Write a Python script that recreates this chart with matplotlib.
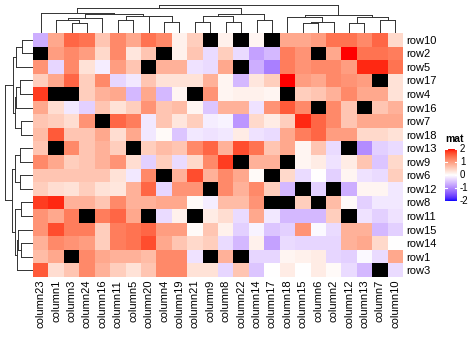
import numpy as np
import matplotlib.pyplot as plt
from matplotlib.colors import ListedColormap

plt.rcParams['font.family'] = ['Liberation Sans', 'DejaVu Sans']

nan = np.nan

# ---------------- data ----------------
row_names = ["row10", "row2", "row5", "row17", "row4", "row16", "row7", "row18", "row13",
             "row9", "row6", "row12", "row8", "row11", "row15", "row14", "row1", "row3"]

col_names = ["column23", "column1", "column3", "column24", "column16", "column11", "column5",
             "column20", "column4", "column19", "column21", "column9", "column8", "column22",
             "column14", "column17", "column18", "column15", "column6", "column2", "column12",
             "column13", "column7", "column10"]

mat = [
    [-0.7, 0.9, 1.5, 1.4, 0.6, 1.2, 0.9, 1.4, 1.2, 0.15, 0.5, nan, 0.15, nan, 0.1, nan, 0.9, 0.9, 1.0, 1.4, 1.4, 1.2, 1.5, 0.4],
    [nan, 1.0, 1.2, 1.0, 0.4, 1.2, 0.25, 0.6, nan, 0.15, 0.6, -0.3, 0.5, -0.3, -0.8, -0.6, 1.3, 1.1, nan, 0.9, 2.0, 1.4, 1.4, 1.3],
    [1.1, -0.35, 1.2, 0.3, -0.15, 1.0, 0.6, nan, 0.8, 0.8, -0.25, -0.3, 0.9, nan, -0.7, -1.1, 1.3, 1.1, 1.2, 1.2, 1.0, 1.9, 1.9, 1.4],
    [0.5, 0.9, 1.5, 0.5, 1.2, -0.35, -0.2, 0.6, 0.3, 0.3, 0.3, 0.8, 0.1, -0.6, 0.25, 0.5, 2.0, 1.0, 0.9, 1.2, 1.1, 1.0, nan, 0.3],
    [1.8, nan, nan, 0.5, 0.8, 0.9, -0.6, 0.9, -0.6, 0.1, nan, 1.1, 0.1, 0.15, 0.15, 0.1, nan, 0.5, 0.6, 0.8, 1.2, 0.9, 0.9, 0.3],
    [0.9, 0.35, -0.2, -0.4, 0.6, 0.3, 0.5, 1.1, 0.6, 0.7, 0.1, -0.5, 0.8, 0.8, -0.25, 1.1, 1.6, 1.2, nan, 1.2, 0.6, nan, 0.6, 0.8],
    [0.6, 0.5, 0.35, 1.1, nan, 1.5, 1.3, -0.2, 0.6, 0.25, 0.5, -0.15, -0.1, -0.9, 0.4, 0.2, 0.5, 1.9, 1.5, 1.2, 0.6, 0.9, 0.9, 0.9],
    [0.7, 1.6, 0.6, 0.6, 0.9, 0.35, 0.9, -0.2, 0.05, -0.5, -0.2, -0.25, -0.2, 0.2, -0.25, -0.3, 0.9, 1.3, 1.5, 1.0, 1.0, 0.4, 0.4, 0.3],
    [0.6, nan, 1.2, 0.6, 0.8, 0.5, nan, 0.5, 0.7, 0.6, 1.2, 1.5, 0.8, 1.7, 1.4, 0.6, 0.9, 0.1, 0.6, -0.3, nan, -1.0, -0.4, -0.3],
    [1.2, 0.9, 0.5, 0.6, 0.8, 1.1, 0.35, -0.4, 0.5, -0.3, 0.4, 1.2, 1.8, nan, 0.8, 0.8, nan, 0.1, 0.2, -0.25, 0.2, 0.6, -0.5, 0.4],
    [0.6, 0.6, 0.6, 0.6, 0.6, 0.3, -0.2, 1.2, nan, 0.8, 1.7, 0.8, 1.2, 0.9, 0.05, nan, 0.4, -0.3, 0.0, -0.4, 0.1, -0.25, -0.3, 0.5],
    [0.5, 0.35, 0.3, 0.5, 0.3, 0.25, 0.8, 1.5, -0.35, 1.1, 1.1, nan, 1.2, 0.8, 1.2, 0.5, -0.6, nan, -0.4, nan, -0.7, 0.1, 0.1, -0.2],
    [1.8, 1.9, 0.8, 0.8, 0.6, 1.2, 0.8, 0.8, 0.9, 0.9, 0.05, -0.15, 0.7, 0.7, 1.1, nan, nan, 0.5, nan, 0.7, 0.05, -0.4, -0.2, -0.2],
    [1.1, 0.9, 1.3, nan, 1.3, 1.5, 0.9, nan, -0.3, 0.15, nan, 0.2, 0.35, -0.3, 0.9, -0.2, -0.6, -0.6, -0.6, 0.5, nan, -0.25, -0.4, -0.25],
    [1.1, 1.7, 1.3, 1.3, 0.5, 1.3, 1.4, 1.5, 1.0, 1.0, 0.05, 0.6, 0.15, -0.4, -0.1, -0.5, -0.4, 1.1, -0.05, -0.3, 0.8, 0.8, -0.6, -0.4],
    [0.8, 1.2, 1.1, 1.0, 0.5, 1.3, 1.4, 1.7, 0.9, 0.6, 0.4, 0.5, -0.3, -0.6, 0.15, -0.8, -0.3, -0.35, -0.35, -0.35, 0.8, 0.9, 0.4, 0.0],
    [0.7, 0.9, nan, 1.2, 0.9, 0.8, 0.8, 0.7, 1.2, 1.2, -0.25, nan, 0.8, nan, -0.35, -0.35, 0.1, 0.15, 0.2, -0.35, -0.4, -0.05, -0.3, 0.9],
    [1.6, 0.35, 0.6, 1.2, 0.8, 0.5, 0.3, 0.6, 1.2, 1.2, 0.3, 0.3, -0.35, 0.6, -0.5, 0.0, 0.2, 0.0, 0.2, 0.05, -0.3, -0.6, nan, -0.3],
]

# merges: (left, right, height); ids >= n_leaves point to earlier merges
col_merges = [
    (2, 3, 3.5), (1, 24, 4.7), (25, 4, 5.3), (5, 6, 4.5), (8, 9, 3.8), (7, 28, 5.9),
    (27, 29, 6.1), (26, 30, 6.8), (0, 31, 7.1), (10, 11, 3.8), (12, 13, 4.1), (33, 34, 5.9),
    (14, 15, 4.5), (35, 36, 6.8), (32, 37, 8.8), (17, 18, 3.5), (39, 19, 3.8), (16, 40, 5.6),
    (20, 21, 3.5), (22, 23, 4.5), (42, 43, 5.6), (41, 44, 6.4), (38, 45, 10.0),
]
row_merges = [
    (0, 1, 4.0), (18, 2, 6.1), (3, 4, 4.6), (20, 5, 6.1), (6, 7, 4.4), (21, 22, 6.6),
    (19, 23, 7.3), (8, 9, 4.6), (10, 11, 4.6), (25, 26, 6.3), (12, 13, 4.4), (15, 16, 4.4),
    (14, 29, 5.3), (30, 17, 5.8), (28, 31, 6.6), (27, 32, 7.5), (24, 33, 10.0),
]

breaks = [-2, 0, 2]
break_cols = ["#0000FF", "#FFFFFF", "#FF0000"]


# ---------------- colour ramp in LAB (like colorRamp2) ----------------
def srgb_to_lab(rgb):
    rgb = np.asarray(rgb, float)
    lin = np.where(rgb <= 0.04045, rgb / 12.92, ((rgb + 0.055) / 1.055) ** 2.4)
    M = np.array([[0.4124, 0.3576, 0.1805], [0.2126, 0.7152, 0.0722], [0.0193, 0.1192, 0.9505]])
    xyz = lin @ M.T / np.array([0.95047, 1.0, 1.08883])
    f = np.where(xyz > 0.008856, np.cbrt(xyz), 7.787 * xyz + 16 / 116)
    return np.stack([116 * f[..., 1] - 16, 500 * (f[..., 0] - f[..., 1]), 200 * (f[..., 1] - f[..., 2])], -1)


def lab_to_srgb(lab):
    L, a, b = lab[..., 0], lab[..., 1], lab[..., 2]
    fy = (L + 16) / 116
    f = np.stack([fy + a / 500, fy, fy - b / 200], -1)
    xyz = np.where(f ** 3 > 0.008856, f ** 3, (f - 16 / 116) / 7.787) * np.array([0.95047, 1.0, 1.08883])
    Minv = np.linalg.inv(np.array([[0.4124, 0.3576, 0.1805], [0.2126, 0.7152, 0.0722], [0.0193, 0.1192, 0.9505]]))
    lin = np.clip(xyz @ Minv.T, 0, 1)
    return np.clip(np.where(lin <= 0.0031308, 12.92 * lin, 1.055 * lin ** (1 / 2.4) - 0.055), 0, 1)


hexrgb = lambda h: [int(h[i:i + 2], 16) / 255 for i in (1, 3, 5)]
labs = srgb_to_lab([hexrgb(c) for c in break_cols])
vals = np.linspace(breaks[0], breaks[-1], 256)
lab_ramp = np.stack([np.interp(vals, breaks, labs[:, k]) for k in range(3)], -1)
cmap = ListedColormap(lab_to_srgb(lab_ramp))
cmap.set_bad("black")


# ---------------- dendrogram helper ----------------
def draw_dendro(ax, merges, n, vertical):
    pos = {i: i + 0.5 for i in range(n)}
    hgt = {i: 0.0 for i in range(n)}
    for k, (a, b, h) in enumerate(merges):
        for c in (a, b):
            xs, ys = [pos[c], pos[c]], [hgt[c], h]
            if vertical:
                ax.plot(xs, ys, color="#333333", lw=0.7)
            else:
                ax.plot(ys, xs, color="#333333", lw=0.7)
        xs, ys = [pos[a], pos[b]], [h, h]
        if vertical:
            ax.plot(xs, ys, color="#333333", lw=0.7)
        else:
            ax.plot(ys, xs, color="#333333", lw=0.7)
        pos[n + k] = (pos[a] + pos[b]) / 2
        hgt[n + k] = h
    ax.axis("off")


# ---------------- figure ----------------
W, H = 474, 338
fig = plt.figure(figsize=(W / 100, H / 100), dpi=100)


def px_axes(x0, y0, x1, y1):
    return fig.add_axes([x0 / W, 1 - y1 / H, (x1 - x0) / W, (y1 - y0) / H])


n_rows, n_cols = len(row_names), len(col_names)
hm_left, hm_right, hm_top, hm_bottom = 33, 403, 33, 277

ax = px_axes(hm_left, hm_top, hm_right, hm_bottom)
data = np.ma.masked_invalid(np.array(mat, float))
ax.pcolormesh(np.arange(n_cols + 1), np.arange(n_rows + 1), data, cmap=cmap, vmin=-2, vmax=2)
ax.set_xlim(0, n_cols)
ax.set_ylim(n_rows, 0)
for s in ax.spines.values():
    s.set_visible(False)
ax.yaxis.tick_right()
ax.set_yticks(np.arange(n_rows) + 0.5)
ax.set_yticklabels(row_names, fontsize=8)
ax.set_xticks(np.arange(n_cols) + 0.5)
ax.set_xticklabels(col_names, rotation=90, fontsize=8)
ax.tick_params(length=0, pad=2)

# column dendrogram
axc = px_axes(hm_left, 5, hm_right, hm_top)
draw_dendro(axc, col_merges, n_cols, True)
axc.set_xlim(0, n_cols)
axc.set_ylim(0, 10)

# row dendrogram
axr = px_axes(5, hm_top, hm_left, hm_bottom)
draw_dendro(axr, row_merges, n_rows, False)
axr.set_ylim(n_rows, 0)
axr.set_xlim(10, 0)

# legend
cax = px_axes(445, 148, 457, 202)
grad = np.linspace(-2, 2, 200).reshape(-1, 1)
cax.imshow(grad, cmap=cmap, vmin=-2, vmax=2, aspect="auto", origin="lower", extent=(0, 1, -2, 2))
for t in [-2, -1, 0, 1, 2]:
    cax.plot([0, 0.2], [t, t], color="white", lw=0.8)
    cax.plot([0.8, 1], [t, t], color="white", lw=0.8)
    cax.text(1.25, t, str(t), fontsize=7, va="center", ha="left")
cax.set_xlim(0, 1)
cax.set_ylim(-2.1, 2.1)
cax.axis("off")
fig.text(445 / W, 1 - 142 / H, "mat", fontsize=7.5, fontweight="bold", ha="left", va="baseline")

fig.savefig("out.png", dpi=100)
